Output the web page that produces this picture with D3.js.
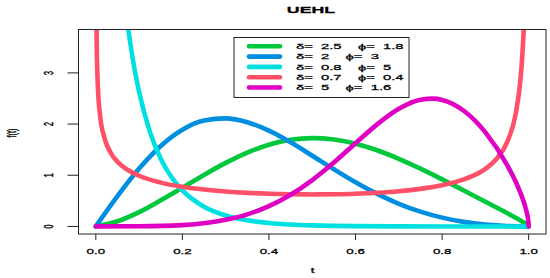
<!DOCTYPE html>
<html>
<head>
<meta charset="utf-8">
<script src="https://cdn.jsdelivr.net/npm/d3@7"></script>
<style>
  body { margin: 0; background: #fff; }
  svg { display: block; }
  text { font-family: "Liberation Sans", Arial, sans-serif; fill: #000; stroke: #000; stroke-width: 0.25px; }
</style>
</head>
<body>
<svg width="550" height="278"></svg>
<script>
// values (density curves of the UEHL model)
const tGreen = [0, 0.05, 0.1, 0.15, 0.2, 0.25, 0.3, 0.35, 0.4, 0.45, 0.5, 0.55, 0.6, 0.65, 0.7, 0.75, 0.8, 0.85, 0.9, 0.95, 0.98, 0.99, 1];
const fGreen = [0, 0.10, 0.28, 0.51, 0.755, 1.006, 1.241, 1.443, 1.596, 1.692, 1.726, 1.700, 1.617, 1.488, 1.321, 1.128, 0.919, 0.702, 0.483, 0.262, 0.121, 0.069, 0];

const tBlue = [0, 0.05, 0.1, 0.15, 0.2, 0.25, 0.3, 0.35, 0.4, 0.45, 0.5, 0.55, 0.6, 0.65, 0.7, 0.75, 0.8, 0.85, 0.9, 0.95, 1];
const fBlue = [0, 0.591, 1.130, 1.573, 1.891, 2.069, 2.112, 2.037, 1.871, 1.643, 1.382, 1.116, 0.862, 0.635, 0.443, 0.289, 0.172, 0.089, 0.036, 0.008, 0];

const tCyan = [0.04, 0.05, 0.06, 0.07, 0.08, 0.09, 0.1, 0.125, 0.15, 0.175, 0.2, 0.25, 0.3, 0.35, 0.4, 0.45, 0.5, 0.6, 0.7, 0.8, 0.9, 1];
const fCyan = [7.14, 5.90, 4.93, 4.17, 3.56, 3.05, 2.63, 1.848, 1.323, 0.960, 0.703, 0.385, 0.214, 0.119, 0.067, 0.037, 0.020, 0.005, 0.001, 0, 0, 0];

const tRed = [0.001, 0.002, 0.005, 0.01, 0.02, 0.035, 0.05, 0.075, 0.1, 0.15, 0.2, 0.25, 0.3, 0.35, 0.4, 0.45, 0.5, 0.55, 0.6, 0.65, 0.7, 0.75, 0.8, 0.85, 0.9, 0.925, 0.95, 0.97, 0.98, 0.985, 0.99, 0.995];
const fRed = [4.42, 3.58, 2.69, 2.16, 1.73, 1.43, 1.265, 1.097, 0.990, 0.856, 0.775, 0.720, 0.682, 0.656, 0.639, 0.629, 0.625, 0.629, 0.639, 0.658, 0.688, 0.734, 0.804, 0.918, 1.126, 1.313, 1.644, 2.201, 2.788, 3.302, 4.196, 6.34];

const tMagenta = [0, 0.1, 0.2, 0.3, 0.35, 0.4, 0.45, 0.5, 0.55, 0.6, 0.65, 0.7, 0.75, 0.78, 0.8, 0.85, 0.9, 0.95, 0.97, 0.98, 0.99, 0.995, 0.999, 1];
const fMagenta = [0, 0.002, 0.026, 0.129, 0.236, 0.396, 0.619, 0.906, 1.249, 1.626, 1.994, 2.297, 2.474, 2.497, 2.472, 2.261, 1.839, 1.204, 0.874, 0.678, 0.443, 0.290, 0.110, 0];

const seriesNames = ["δ= 2.5  ϕ= 1.8", "δ= 2  ϕ= 3", "δ= 0.8  ϕ= 5", "δ= 0.7  ϕ= 0.4", "δ= 5  ϕ= 1.6"];
const seriesColors = ["#00c83c", "#008ee0", "#00e0e0", "#ff5068", "#e000c4"];

const xTicks = [0, 0.2, 0.4, 0.6, 0.8, 1.0];
const xTickLabels = ["0.0", "0.2", "0.4", "0.6", "0.8", "1.0"];
const yTicks = [0, 1, 2, 3];
const yTickLabels = ["0", "1", "2", "3"];

// the reference image is squashed sideways, so text gets stretched by this much
const stretch = 1.85;

const svg = d3.select('svg');

// plot region box (R style, 4% padding on both axes)
const plotLeft = 78.5, plotRight = 546, plotTop = 29.5, plotBottom = 234;
const x = d3.scaleLinear().domain([-0.04, 1.04]).range([plotLeft, plotRight]);
const y = d3.scaleLinear().domain([-0.148, 3.848]).range([plotBottom, plotTop]);

svg.append('defs').append('clipPath')
    .attr('id', 'plotClip')
    .append('rect')
    .attr('x', plotLeft)
    .attr('y', plotTop)
    .attr('width', plotRight - plotLeft)
    .attr('height', plotBottom - plotTop);

const allSeries = [
    d3.zip(tGreen, fGreen),
    d3.zip(tBlue, fBlue),
    d3.zip(tCyan, fCyan),
    d3.zip(tRed, fRed),
    d3.zip(tMagenta, fMagenta)
];

const line = d3.line()
    .x(d => x(d[0]))
    .y(d => y(d[1]))
    .curve(d3.curveMonotoneX);

const curves = svg.append('g').attr('clip-path', 'url(#plotClip)');
allSeries.forEach((pts, i) => {
    curves.append('path')
        .attr('d', line(pts))
        .attr('fill', 'none')
        .attr('stroke', seriesColors[i])
        .attr('stroke-width', 4.6)
        .attr('stroke-linejoin', 'round')
        .attr('stroke-linecap', 'round');
});

// box round the plot
svg.append('rect')
    .attr('x', plotLeft)
    .attr('y', plotTop)
    .attr('width', plotRight - plotLeft)
    .attr('height', plotBottom - plotTop)
    .attr('fill', 'none')
    .attr('stroke', '#222')
    .attr('stroke-width', 1);

// x axis ticks + labels
const xAxis = svg.append('g');
xTicks.forEach((t, i) => {
    xAxis.append('line')
        .attr('x1', x(t)).attr('x2', x(t))
        .attr('y1', plotBottom).attr('y2', plotBottom + 6)
        .attr('stroke', '#222');
    xAxis.append('text')
        .text(xTickLabels[i])
        .attr('transform', `translate(${x(t)},253.7) scale(${stretch},1)`)
        .attr('text-anchor', 'middle')
        .style('font-size', '7.2px');
});

// y axis ticks + rotated labels
const yAxis = svg.append('g');
yTicks.forEach((v, i) => {
    yAxis.append('line')
        .attr('x1', plotLeft - 11).attr('x2', plotLeft)
        .attr('y1', y(v)).attr('y2', y(v))
        .attr('stroke', '#222');
    yAxis.append('text')
        .text(yTickLabels[i])
        .attr('transform', `translate(48,${y(v)}) scale(${stretch},1) rotate(-90)`)
        .attr('text-anchor', 'middle')
        .attr('dy', '0.36em')
        .style('font-size', '7.2px');
});

// titles
svg.append('text')
    .text('UEHL')
    .attr('transform', `translate(311,13.3) scale(${stretch},1)`)
    .attr('text-anchor', 'middle')
    .style('font-size', '9.6px')
    .style('font-weight', 'bold');

svg.append('text')
    .text('t')
    .attr('transform', `translate(312.7,272.7) scale(${stretch},1)`)
    .attr('text-anchor', 'middle')
    .style('font-size', '7.2px');

svg.append('text')
    .text('f(t)')
    .attr('transform', `translate(11,133) scale(${stretch},1) rotate(-90)`)
    .attr('text-anchor', 'middle')
    .attr('dy', '0.36em')
    .style('font-size', '7.2px');

// legend
const legend = svg.append('g');
legend.append('rect')
    .attr('x', 234).attr('y', 37.5)
    .attr('width', 175).attr('height', 60)
    .attr('fill', '#fff')
    .attr('stroke', '#222')
    .attr('stroke-width', 1);

seriesNames.forEach((name, i) => {
    const rowY = 46.3 + i * 10.3;
    legend.append('line')
        .attr('x1', 249).attr('x2', 280)
        .attr('y1', rowY).attr('y2', rowY)
        .attr('stroke', seriesColors[i])
        .attr('stroke-width', 4.6)
        .attr('stroke-linecap', 'round');
    legend.append('text')
        .text(name)
        .attr('transform', `translate(296,${rowY}) scale(${stretch},1)`)
        .attr('dy', '0.36em')
        .attr('xml:space', 'preserve')
        .style('white-space', 'pre')
        .style('word-spacing', '2.2px')
        .style('font-size', '8px');
});
</script>
</body>
</html>
